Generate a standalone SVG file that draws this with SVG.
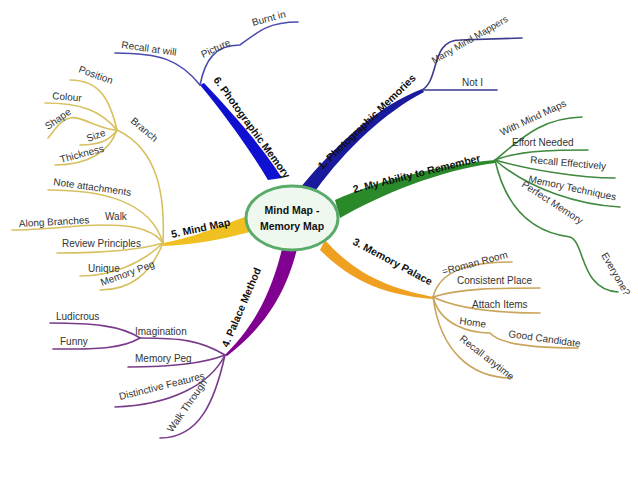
<svg xmlns="http://www.w3.org/2000/svg" width="638" height="478" viewBox="0 0 638 478">
<style>
text{font-family:"Liberation Sans","DejaVu Sans",sans-serif;font-size:10px;fill:#333}
.m{font-size:10.5px;font-weight:bold;fill:#111}
.s{fill:none;stroke-width:1.6;stroke-linecap:round}
.b1{stroke:#3a3a8c}.b2{stroke:#3f8a3f}.b3{stroke:#c9a45a}.b4{stroke:#7a3a8a}.b5{stroke:#d8c060}.b6{stroke:#4a4ab0}
</style>
<rect width="638" height="478" fill="#fff"/>
<g id="connectors">
<path d="M300,188 C340,140 380,105 422,89 L424,92 C385,112 345,150 316,190Z" fill="#1a1a9c"/>
<path d="M335,200 C380,180 440,165 495,160 L495,163 C440,170 380,195 340,218Z" fill="#2a8a2a"/>
<path d="M325,240 C360,280 400,290 433,297 L433,299 C400,296 360,290 320,250Z" fill="#f0a020"/>
<path d="M283,245 C270,300 250,330 225,355 L227,356 C260,330 285,300 298,245Z" fill="#800090"/>
<path d="M250,215 C210,230 190,238 163,243 L163,246 C190,245 220,240 250,232Z" fill="#f0c020"/>
<path d="M268,180 C250,150 225,115 200,85 L204,83 C230,110 265,150 282,178Z" fill="#1010d0"/>
<path class="s b1" d="M422,90 C440,80 430,40 460,40 L522,38"/>
<path class="s b1" d="M422,90 L497,90"/>
<path class="s b2" d="M495,160 C520,140 540,118 582,117"/>
<path class="s b2" d="M495,160 C520,150 560,150 588,150"/>
<path class="s b2" d="M495,160 C530,170 580,178 615,178"/>
<path class="s b2" d="M495,160 C530,190 580,205 620,207"/>
<path class="s b2" d="M495,160 C505,205 530,232 570,237 C585,242 580,290 618,292"/>
<path class="s b3" d="M433,297 C440,270 470,262 512,262"/>
<path class="s b3" d="M433,297 C460,288 500,288 540,288"/>
<path class="s b3" d="M433,297 C460,310 500,313 540,313"/>
<path class="s b3" d="M433,297 C440,325 470,333 490,333 C500,345 540,348 578,348"/>
<path class="s b3" d="M433,297 C440,350 470,378 512,378"/>
<path class="s b4" d="M225,355 C200,340 180,338 140,338"/>
<path class="s b4" d="M140,338 C120,325 90,323 50,323"/>
<path class="s b4" d="M140,338 C120,350 90,349 53,349"/>
<path class="s b4" d="M225,355 C200,365 160,367 128,367"/>
<path class="s b4" d="M225,355 C210,385 170,405 115,407"/>
<path class="s b4" d="M225,355 C215,400 200,438 160,438"/>
<path class="s b5" d="M163,243 C165,200 160,150 117,130"/>
<path class="s b5" d="M117,130 C110,100 100,80 70,80"/>
<path class="s b5" d="M117,130 C100,110 80,103 45,103"/>
<path class="s b5" d="M117,130 C100,130 80,115 70,118 C60,120 55,130 48,138"/>
<path class="s b5" d="M117,130 C110,140 100,145 80,145"/>
<path class="s b5" d="M117,130 C110,150 90,165 55,165"/>
<path class="s b5" d="M163,243 C150,200 100,190 48,190"/>
<path class="s b5" d="M163,243 C150,225 120,225 100,225 C80,225 40,230 12,230"/>
<path class="s b5" d="M163,243 C140,250 100,253 57,253"/>
<path class="s b5" d="M163,243 C140,265 110,276 80,276"/>
<path class="s b5" d="M163,243 C150,275 130,290 100,290"/>
<path class="s b6" d="M200,85 C180,60 160,53 115,53"/>
<path class="s b6" d="M200,85 C205,60 215,45 240,45 C260,30 270,22 298,22"/>
</g>
<g id="center"><ellipse cx="292" cy="218" rx="46" ry="32" fill="#eef8ee" stroke="#5aaa6a" stroke-width="3"/>
<text class="m" x="292" y="214" text-anchor="middle">Mind Map -</text><text class="m" x="292" y="230" text-anchor="middle">Memory Map</text></g>
<g id="n1"><text class="m" transform="translate(322,170) rotate(-44)">1. Photographic Memories</text>
<text style="font-size:9.5px" transform="translate(434,64) rotate(-30)">Many Mind Mappers</text><text x="462" y="86">Not I</text></g>
<g id="n2"><text class="m" transform="translate(354,193) rotate(-14)">2. My Ability to Remember</text>
<text transform="translate(502,136) rotate(-25)">With Mind Maps</text><text x="512" y="146">Effort Needed</text>
<text transform="translate(530,163) rotate(5)">Recall Effectively</text><text transform="translate(528,182) rotate(12)">Memory Techniques</text>
<text transform="translate(521,186) rotate(33)">Perfect Memory</text><text transform="translate(601,255) rotate(60)">Everyone?</text></g>
<g id="n3"><text class="m" transform="translate(352,244) rotate(28)">3. Memory Palace</text>
<text transform="translate(443,275) rotate(-15)">=Roman Room</text><text x="457" y="284">Consistent Place</text>
<text x="472" y="308">Attach Items</text><text transform="translate(459,324) rotate(8)">Home</text>
<text transform="translate(508,337) rotate(8)">Good Candidate</text><text transform="translate(459,340) rotate(38)">Recall anytime</text></g>
<g id="n4"><text class="m" transform="translate(228,348) rotate(-67)">4. Palace Method</text>
<text x="56" y="320">Ludicrous</text><text x="60" y="345">Funny</text><text x="135" y="335">Imagination</text>
<text x="135" y="362">Memory Peg</text><text transform="translate(120,400) rotate(-14)">Distinctive Features</text>
<text transform="translate(172,433) rotate(-55)">Walk Through</text></g>
<g id="n5"><text class="m" transform="translate(172,238) rotate(-12)">5. Mind Map</text>
<text transform="translate(130,122) rotate(40)">Branch</text><text transform="translate(78,72) rotate(20)">Position</text>
<text transform="translate(52,99) rotate(5)">Colour</text><text transform="translate(48,130) rotate(-35)">Shape</text>
<text transform="translate(88,142) rotate(-20)">Size</text><text transform="translate(61,163) rotate(-15)">Thickness</text>
<text transform="translate(53,185) rotate(8)">Note attachments</text><text x="105" y="220">Walk</text>
<text transform="translate(19,227) rotate(-3)">Along Branches</text><text x="62" y="247">Review Principles</text>
<text x="88" y="272">Unique</text><text transform="translate(102,286) rotate(-20)">Memory Peg</text></g>
<g id="n6"><text class="m" transform="translate(213,80) rotate(54)">6. Photographic Memory</text>
<text transform="translate(121,48) rotate(8)">Recall at will</text><text transform="translate(203,58) rotate(-25)">Picture</text>
<text transform="translate(253,26) rotate(-15)">Burnt in</text></g>
</svg>
